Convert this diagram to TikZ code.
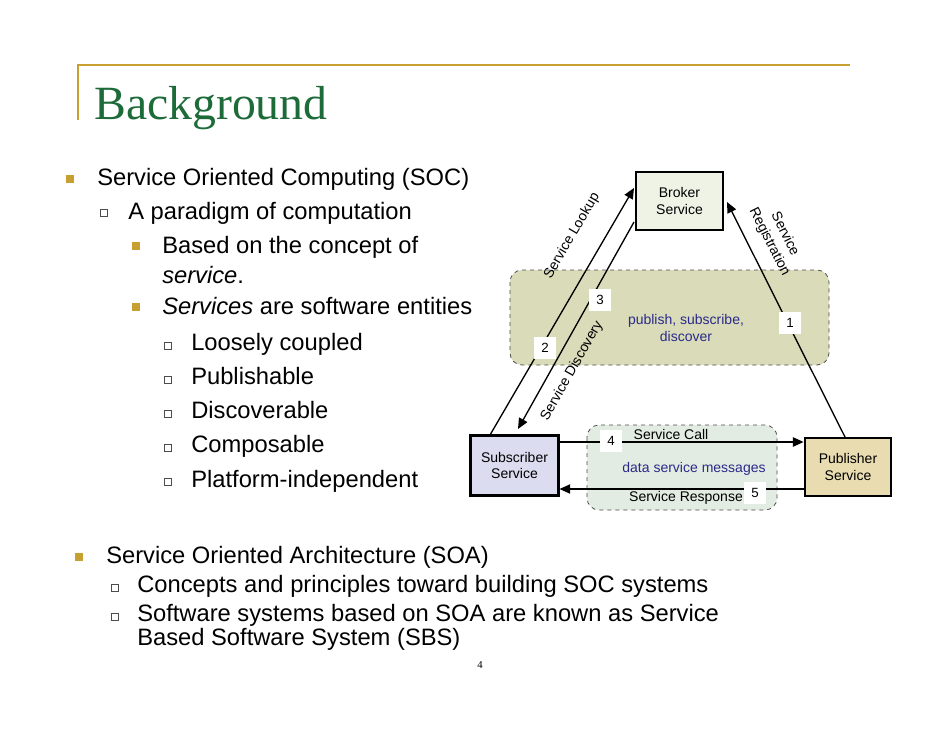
\documentclass[tikz,border=0pt]{standalone}
\usepackage{fontspec}
\setmainfont{Liberation Sans}
\newfontfamily\titlefont{Liberation Serif}
\usetikzlibrary{arrows.meta}
\definecolor{gold}{HTML}{C8A032}
\definecolor{ttl}{HTML}{1E6B3A}
\definecolor{bkfill}{HTML}{EEF3E6}
\definecolor{subfill}{HTML}{DCDCF0}
\definecolor{pubfill}{HTML}{E8DCB0}
\definecolor{olive}{HTML}{D9DBB9}
\definecolor{lgreen}{HTML}{E3ECE2}
\definecolor{navy}{HTML}{2A2A8A}
\tikzset{
  txt/.style={anchor=base west, inner sep=0pt, font=\fontsize{17.8}{19.5}\selectfont},
  fb/.style={fill=gold, draw=none, minimum size=6.5pt, inner sep=0pt},
  hb/.style={draw=black!70, fill=white, line width=0.5pt, minimum size=5pt, inner sep=0pt},
  svc/.style={draw, line width=1.6pt, align=center, font=\fontsize{10.5}{12.5}\selectfont, inner sep=0pt},
  num/.style={fill=white, font=\fontsize{10}{11}\selectfont, minimum width=17pt, minimum height=17pt, inner sep=0pt},
  lab/.style={font=\fontsize{10.5}{13}\selectfont, align=center, inner sep=1pt},
  reg/.style={draw=black!70, dashed, rounded corners=9pt, line width=0.6pt},
  arr/.style={line width=1pt, -{Triangle[length=8pt,width=7pt]}},
}
\begin{document}
\begin{tikzpicture}[x=0.75pt,y=-0.75pt]
\useasboundingbox (0,0) rectangle (942,728);
\fill[white] (0,0) rectangle (942,728);
% title
\draw[gold, line width=1.2pt] (78,120) -- (78,65) -- (850,65);
\node[anchor=base west, inner sep=0pt, text=ttl, font=\titlefont\fontsize{35.8}{38}\selectfont] (title) at (94,119) {Background};
% bullets and texts
\node[fb] (b1) at (70,179) {}; \node[txt] (t1) at (97,185) {Service Oriented Computing (SOC)};
\node[hb] (b2) at (104,213) {}; \node[txt] (t2) at (128,219) {A paradigm of computation};
\node[fb] (b3) at (136,246) {}; \node[txt] (t3) at (162,253) {Based on the concept of};
\node[txt] (t3b) at (162,283) {\itshape service\upshape.};
\node[fb] (b4) at (136,307) {}; \node[txt] (t4) at (162,314) {\itshape Services\upshape{} are software entities};
\node[hb] (b5) at (168,346) {}; \node[txt] (t5) at (191,350) {Loosely coupled};
\node[hb] (b6) at (168,380) {}; \node[txt] (t6) at (191,384) {Publishable};
\node[hb] (b7) at (168,414) {}; \node[txt] (t7) at (191,418) {Discoverable};
\node[hb] (b8) at (168,448) {}; \node[txt] (t8) at (191,452) {Composable};
\node[hb] (b9) at (168,482) {}; \node[txt] (t9) at (191,487) {Platform-independent};
\node[fb] (b10) at (79,557) {}; \node[txt] (t10) at (106,563) {Service Oriented Architecture (SOA)};
\node[hb] (b11) at (115,588) {}; \node[txt] (t11) at (137,592) {Concepts and principles toward building SOC systems};
\node[hb] (b12) at (115,617) {}; \node[txt] (t12) at (137,621) {Software systems based on SOA are known as Service};
\node[txt] (t12b) at (137,645) {Based Software System (SBS)};
\node[anchor=base, inner sep=0pt, font=\titlefont\fontsize{8}{9}\selectfont] (pg) at (480,668) {4};
% regions
\draw[reg, fill=olive] (510,270) rectangle (829,365);
\draw[reg, fill=lgreen] (587,425) rectangle (777,510);
\node[lab, text=navy] (psd) at (686,328) {publish, subscribe,\\discover};
\node[lab, text=navy] (dsm) at (694,469) {data service messages};
% services
\node[svc, fill=bkfill, minimum width=65pt, minimum height=44pt] (broker) at (679.5,201) {Broker\\Service};
\node[svc, fill=subfill, minimum width=66pt, minimum height=45pt] (sub) at (514.5,465.5) {Subscriber\\Service};
\node[svc, fill=pubfill, minimum width=65pt, minimum height=44pt] (pub) at (848,467) {Publisher\\Service};
% connectors
\coordinate (lkS) at (490,435); \coordinate (lkB) at (634,188);
\coordinate (dsB) at (634,222); \coordinate (dsS) at (518,429);
\coordinate (rgP) at (845,437); \coordinate (rgB) at (727,202);
\draw[arr] (lkS) -- (lkB);
\draw[arr] (dsB) -- (dsS);
\draw[arr] (rgP) -- (rgB);
\draw[arr] (sub.east |- 0,442) -- (pub.west |- 0,442);
\draw[arr] (pub.west |- 0,489) -- (sub.east |- 0,489);
% labels
\node[lab, rotate=59.7] (llk) at (572,236) {Service Lookup};
\node[lab, rotate=60.5] (lds) at (572,371) {Service Discovery};
\node[lab, rotate=-63.4] (lrg) at (777,238) {Service\\Registration};
\node[lab] (lsc) at (671,434) {Service Call};
\node[lab] (lsr) at (686,498) {Service Response};
\node[num] (n1) at (790,323) {1};
\node[num] (n2) at (545,348) {2};
\node[num] (n3) at (600,300) {3};
\node[num] (n4) at (611,441) {4};
\node[num] (n5) at (755,493) {5};
\end{tikzpicture}
\end{document}
